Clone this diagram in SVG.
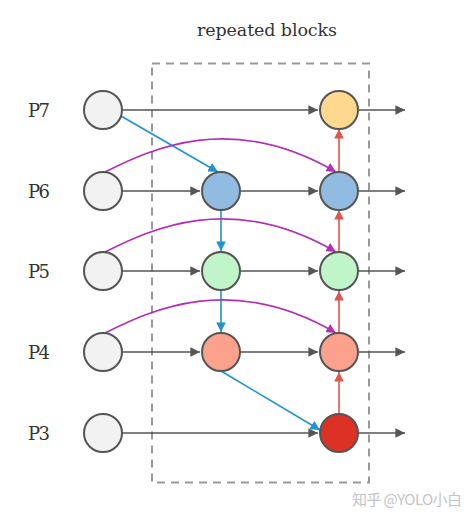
<svg xmlns="http://www.w3.org/2000/svg" width="474" height="519" viewBox="0 0 474 519">
<style>
.lbl{font-family:"DejaVu Serif","Liberation Serif",serif;font-size:18px;fill:#333}
.title{font-family:"DejaVu Serif","Liberation Serif",serif;font-size:17.5px;fill:#333}
.node{stroke:#555;stroke-width:2}
.g{stroke:#555;stroke-width:1.6;fill:none}
.b{stroke:#1f93d2;stroke-width:1.6;fill:none}
.r{stroke:#e0554c;stroke-width:1.6;fill:none}
.m{stroke:#b230b4;stroke-width:1.6;fill:none}
</style>
<defs>
<marker id="ag" viewBox="0 0 10 10" refX="10" refY="5" markerWidth="6" markerHeight="6" orient="auto" markerUnits="strokeWidth"><path d="M0,0L10,5L0,10z" fill="#555"/></marker>
<marker id="ab" viewBox="0 0 10 10" refX="10" refY="5" markerWidth="6" markerHeight="6" orient="auto" markerUnits="strokeWidth"><path d="M0,0L10,5L0,10z" fill="#1f93d2"/></marker>
<marker id="ar" viewBox="0 0 10 10" refX="10" refY="5" markerWidth="6" markerHeight="6" orient="auto" markerUnits="strokeWidth"><path d="M0,0L10,5L0,10z" fill="#e0554c"/></marker>
<marker id="am" viewBox="0 0 10 10" refX="10" refY="5" markerWidth="6" markerHeight="6" orient="auto" markerUnits="strokeWidth"><path d="M0,0L10,5L0,10z" fill="#b230b4"/></marker>
</defs>
<rect width="474" height="519" fill="#fff"/>
<text x="267" y="36" text-anchor="middle" class="title" textLength="140">repeated blocks</text>
<rect id="block" x="152" y="63.5" width="217" height="419" fill="none" stroke="#999" stroke-width="2" stroke-dasharray="8,6"/>
<g class="lbl">
<text x="28" y="117" textLength="22">P7</text>
<text x="28" y="198" textLength="22">P6</text>
<text x="28" y="278" textLength="22">P5</text>
<text x="28" y="359" textLength="22">P4</text>
<text x="28" y="440" textLength="22">P3</text>
</g>
<g id="connectors">
<path class="g" d="M122,110H318" marker-end="url(#ag)"/>
<path class="g" d="M358,110H405" marker-end="url(#ag)"/>
<path class="g" d="M122,191H200" marker-end="url(#ag)"/>
<path class="g" d="M240,191H318" marker-end="url(#ag)"/>
<path class="g" d="M358,191H405" marker-end="url(#ag)"/>
<path class="g" d="M122,271H200" marker-end="url(#ag)"/>
<path class="g" d="M240,271H318" marker-end="url(#ag)"/>
<path class="g" d="M358,271H405" marker-end="url(#ag)"/>
<path class="g" d="M122,352H200" marker-end="url(#ag)"/>
<path class="g" d="M240,352H318" marker-end="url(#ag)"/>
<path class="g" d="M358,352H405" marker-end="url(#ag)"/>
<path class="g" d="M122,433H318" marker-end="url(#ag)"/>
<path class="g" d="M358,433H405" marker-end="url(#ag)"/>
<path class="b" d="M121,116L218,172" marker-end="url(#ab)"/>
<path class="b" d="M221,210V251" marker-end="url(#ab)"/>
<path class="b" d="M221,290V332" marker-end="url(#ab)"/>
<path class="b" d="M221,371L320,430" marker-end="url(#ab)"/>
<path class="r" d="M339,414V372" marker-end="url(#ar)"/>
<path class="r" d="M339,333V291" marker-end="url(#ar)"/>
<path class="r" d="M339,252V210" marker-end="url(#ar)"/>
<path class="r" d="M339,172V129" marker-end="url(#ar)"/>
<path class="m" d="M105,172C150,150 230,110 336,172" marker-end="url(#am)"/>
<path class="m" d="M105,252C150,230 230,190 336,252" marker-end="url(#am)"/>
<path class="m" d="M105,333C150,311 230,271 336,333" marker-end="url(#am)"/>
</g>
<g id="p7_in"><circle class="node" cx="103" cy="110" r="19" fill="#f2f2f2"/></g>
<g id="p6_in"><circle class="node" cx="103" cy="191" r="19" fill="#f2f2f2"/></g>
<g id="p5_in"><circle class="node" cx="103" cy="271" r="19" fill="#f2f2f2"/></g>
<g id="p4_in"><circle class="node" cx="103" cy="352" r="19" fill="#f2f2f2"/></g>
<g id="p3_in"><circle class="node" cx="103" cy="433" r="19" fill="#f2f2f2"/></g>
<g id="p6_mid"><circle class="node" cx="221" cy="191" r="19" fill="#92bbe2"/></g>
<g id="p5_mid"><circle class="node" cx="221" cy="271" r="19" fill="#bff5c9"/></g>
<g id="p4_mid"><circle class="node" cx="221" cy="352" r="19" fill="#fca28c"/></g>
<g id="p7_out"><circle class="node" cx="339" cy="110" r="19" fill="#fed88e"/></g>
<g id="p6_out"><circle class="node" cx="339" cy="191" r="19" fill="#92bbe2"/></g>
<g id="p5_out"><circle class="node" cx="339" cy="271" r="19" fill="#bff5c9"/></g>
<g id="p4_out"><circle class="node" cx="339" cy="352" r="19" fill="#fca28c"/></g>
<g id="p3_out"><circle class="node" cx="339" cy="433" r="19" fill="#dc3226"/></g>
<text x="352" y="505" font-family="'Noto Sans CJK SC',sans-serif" font-size="15" fill="#c4c4c4" textLength="110">知乎 @YOLO小白</text>
</svg>
